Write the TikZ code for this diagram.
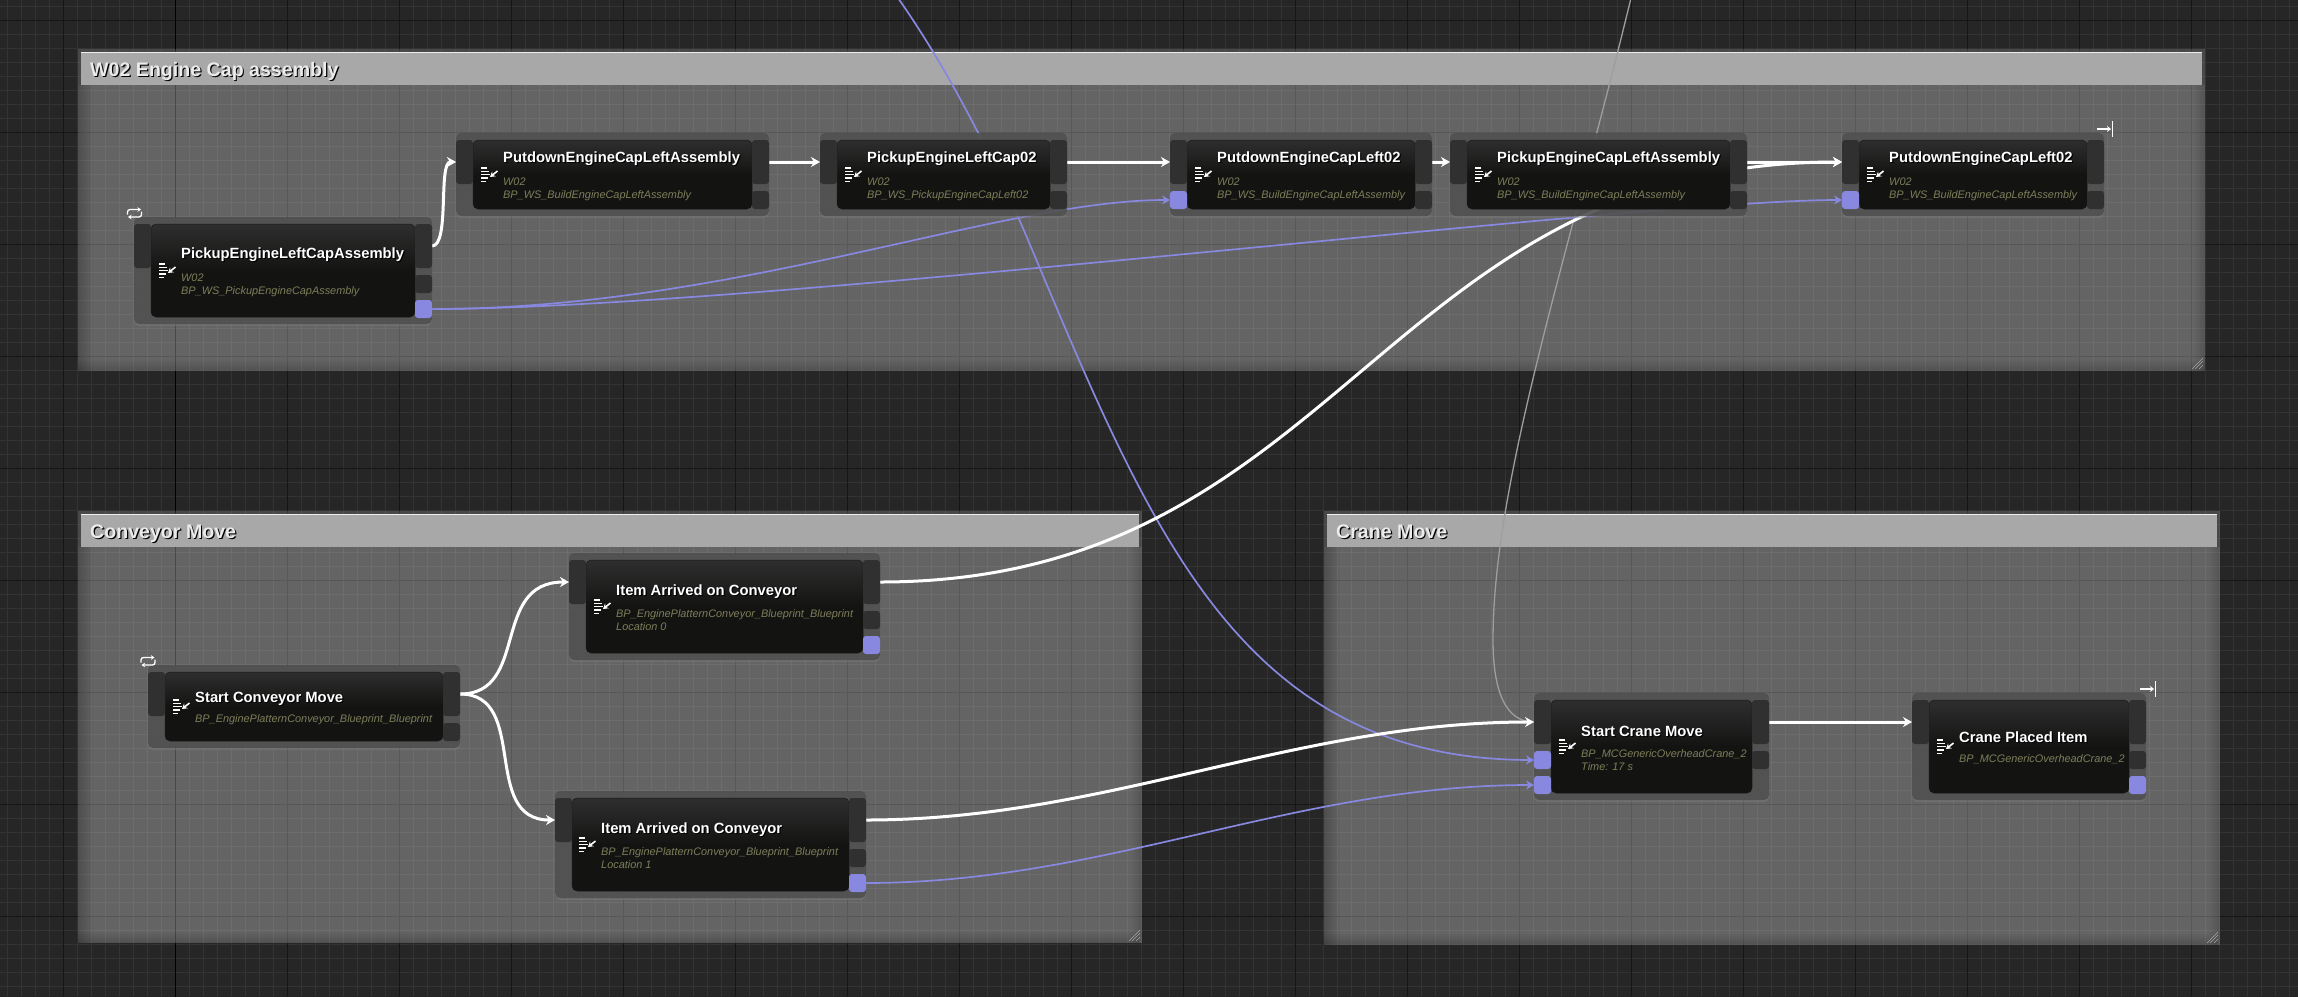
\documentclass[tikz,border=0pt]{standalone}
\usepackage{fontspec}
\setmainfont{Liberation Sans}
\usetikzlibrary{arrows.meta,backgrounds,calc,fadings,shadows}
\definecolor{bggrid}{HTML}{262626}
\definecolor{minorcol}{HTML}{333333}
\definecolor{majorcol}{HTML}{161616}
\definecolor{barcol}{HTML}{A8A8A8}
\definecolor{framecol}{HTML}{4E4E4E}
\definecolor{pincol}{HTML}{303030}
\definecolor{bodytop}{HTML}{2E2E2E}
\definecolor{bodybot}{HTML}{131412}
\definecolor{datacol}{HTML}{8888E0}
\definecolor{subcol}{HTML}{7E7E5A}
\newcommand{\shadowed}[1]{\leavevmode\rlap{\kern1.2pt\raisebox{-1.2pt}{\textcolor{black}{#1}}}#1}
% name, position, width, height, title position, sub position, title, sub
\newcommand{\graphnode}[8]{
	\node[frame, minimum width=#3, minimum height=#4] (#1) at #2 {};
	\node[body, minimum width=#3-34, minimum height=#4-14] (#1-body) at (#1) {};
	\node[pinbox, minimum height=44, anchor=north west] (#1-in) at ([yshift=-7pt]#1.north west) {};
	\node[pinbox, minimum height=44, anchor=north east] (#1-out) at ([yshift=-7pt]#1.north east) {};
	\node[pinbox, minimum height=18, anchor=north east] (#1-aux) at ([yshift=-58pt]#1.north east) {};
	\node[titletext] (#1-title) at #5 {\shadowed{#7}};
	\node[subtext] (#1-sub) at #6 {#8};
	\pic at ([xshift=-14pt]#1-title.west |- #1.center) {listicon};
}
% name, left, top, right, bottom, title
\newcommand{\commentbox}[6]{
	\fill[white, fill opacity=.286] (#2,#3+36) rectangle (#4,#5);
	\fill[white, fill opacity=.16] (#2,#3) rectangle (#4,#3+36);
	\fill[black, fill opacity=.22, path fading=east] (#2,#3+36) rectangle (#2+16,#5);
	\fill[black, fill opacity=.16, path fading=west] (#4-12,#3+36) rectangle (#4,#5);
	\fill[black, fill opacity=.2, path fading=north] (#2,#5-12) rectangle (#4,#5);
	\fill[barcol] (#2+3,#3+3) rectangle (#4-3,#3+36);
	\draw[white!80!barcol] (#2+3,#3+3.5) -- (#4-3,#3+3.5);
	\foreach \d in {4,8,11}{
		\draw[white!75!black, line width=.4pt] (#4-2-\d,#5-2) -- (#4-2,#5-2-\d);
	}
	\node[commenttext] (#1-title) at (#2+12,#3+22) {\shadowed{#6}};
}
\begin{document}
\begin{tikzpicture}[x=1pt, y=-1pt,
	frame/.style={rectangle, anchor=north west, rounded corners=5pt, fill=framecol, fill opacity=.85, inner sep=0pt, outer sep=0pt,
		drop shadow={shadow xshift=0pt, shadow yshift=-2pt, opacity=.4}},
	body/.style={rectangle, rounded corners=5pt, top color=bodytop, bottom color=bodybot, middle color=bodybot, draw=black!90, line width=.5pt, inner sep=0pt, outer sep=0pt},
	pinbox/.style={rectangle, rounded corners=3pt, fill=pincol, minimum width=17, inner sep=0pt, outer sep=0pt},
	datapin/.style={pinbox, fill=datacol, minimum height=18},
	titletext/.style={anchor=west, inner sep=0pt, yshift=-1pt, text=white, text height=11pt, text depth=3pt, font=\fontsize{14.8}{15}\selectfont\bfseries},
	subtext/.style={anchor=north west, inner sep=0pt, yshift=-2.5pt, align=left, text=subcol, font=\fontsize{10.9}{13}\selectfont\itshape},
	commenttext/.style={anchor=west, inner sep=0pt, text=white!92!black, text height=14pt, text depth=4pt, font=\fontsize{19.6}{20}\selectfont\bfseries},
	exec wire/.style={white, line width=3pt, -{Stealth[length=9pt,width=10pt]}},
	data wire/.style={datacol, line width=1.7pt, -{Stealth[length=8pt,width=9pt]}},
	thin wire/.style={white!62!black, line width=1.3pt},
	listicon/.pic={
		\foreach \i/\l in {0/6,1/8,2/9,3/7,4/5}{
			\draw[white, line width=1.3pt] (-8,-6.5+3.3*\i) -- (-8+\l,-6.5+3.3*\i);
		}
		\draw[white, line width=1.6pt, -{Stealth[length=5pt,width=6pt]}] (8.5,-3.5) -- (1,2.5);
	},
	loopicon/.pic={
		\draw[white, line width=1.3pt, rounded corners=2.5pt, -{Stealth[length=3.5pt,width=4.5pt]}] (-7,1.5) -- (-7,-3.5) -- (6.5,-3.5);
		\draw[white, line width=1.3pt, rounded corners=2.5pt, -{Stealth[length=3.5pt,width=4.5pt]}] (7,-1.5) -- (7,4) -- (-6.5,4);
	},
	endicon/.pic={
		\draw[white, line width=1.5pt, -{Stealth[length=4pt,width=6pt]}] (-8,0) -- (6,0);
		\draw[white, line width=1pt] (7,-8) -- (7,8);
	}]
	\useasboundingbox (0,0) rectangle (2298,997);
	\begin{scope}[on background layer]
		\fill[bggrid] (0,0) rectangle (2298,997);
		\foreach \x in {7.5,21.5,...,2298}{
			\draw[minorcol, line width=1pt] (\x,0) -- (\x,997);
		}
		\foreach \y in {6.5,20.5,...,997}{
			\draw[minorcol, line width=1pt] (0,\y) -- (2298,\y);
		}
		\foreach \x in {63.5,175.5,...,2298}{
			\draw[majorcol, line width=1pt] (\x,0) -- (\x,997);
		}
		\foreach \y in {20.5,132.5,...,997}{
			\draw[majorcol, line width=1pt] (0,\y) -- (2298,\y);
		}
		\draw[black, line width=1pt] (175.5,0) -- (175.5,997);
		\commentbox{engine}{78}{49}{2205}{371}{W02 Engine Cap assembly}
		\commentbox{conveyor}{78}{511}{1142}{943}{Conveyor Move}
		\commentbox{crane}{1324}{511}{2220}{945}{Crane Move}
	\end{scope}

	\graphnode{pickupasm}{(134,217)}{298}{107}{(181,253)}{(181,271)}{PickupEngineLeftCapAssembly}{W02\\BP\_WS\_PickupEngineCapAssembly}
	\graphnode{putdownasm}{(456,133)}{313}{83}{(503,157)}{(503,175)}{PutdownEngineCapLeftAssembly}{W02\\BP\_WS\_BuildEngineCapLeftAssembly}
	\graphnode{pickupcap}{(820,133)}{247}{83}{(867,157)}{(867,175)}{PickupEngineLeftCap02}{W02\\BP\_WS\_PickupEngineCapLeft02}
	\graphnode{putdowncap}{(1170,133)}{262}{83}{(1217,157)}{(1217,175)}{PutdownEngineCapLeft02}{W02\\BP\_WS\_BuildEngineCapLeftAssembly}
	\graphnode{pickuplast}{(1450,133)}{297}{83}{(1497,157)}{(1497,175)}{PickupEngineCapLeftAssembly}{W02\\BP\_WS\_BuildEngineCapLeftAssembly}
	\graphnode{putdownlast}{(1842,133)}{262}{83}{(1889,157)}{(1889,175)}{PutdownEngineCapLeft02}{W02\\BP\_WS\_BuildEngineCapLeftAssembly}
	\graphnode{startconv}{(148,665)}{312}{83}{(195,697)}{(195,712)}{Start Conveyor Move}{BP\_EnginePlatternConveyor\_Blueprint\_Blueprint}
	\graphnode{itemzero}{(569,553)}{311}{107}{(616,590)}{(616,607)}{Item Arrived on Conveyor}{BP\_EnginePlatternConveyor\_Blueprint\_Blueprint\\Location 0}
	\graphnode{itemone}{(555,791)}{311}{107}{(601,828)}{(601,845)}{Item Arrived on Conveyor}{BP\_EnginePlatternConveyor\_Blueprint\_Blueprint\\Location 1}
	\graphnode{startcrane}{(1534,693)}{235}{107}{(1581,731)}{(1581,747)}{Start Crane Move}{BP\_MCGenericOverheadCrane\_2\\Time: 17 s}
	\graphnode{placed}{(1912,693)}{234}{107}{(1959,737)}{(1959,752)}{Crane Placed Item}{BP\_MCGenericOverheadCrane\_2}

	\node[datapin, anchor=north east] (pickupasm-data) at ([yshift=-83pt]pickupasm.north east) {};
	\node[datapin, anchor=north west] (putdowncap-data) at ([yshift=-58pt]putdowncap.north west) {};
	\node[datapin, anchor=north west] (putdownlast-data) at ([yshift=-58pt]putdownlast.north west) {};
	\node[datapin, anchor=north east] (itemzero-data) at ([yshift=-83pt]itemzero.north east) {};
	\node[datapin, anchor=north east] (itemone-data) at ([yshift=-83pt]itemone.north east) {};
	\node[datapin, anchor=north west] (startcrane-one) at ([yshift=-58pt]startcrane.north west) {};
	\node[datapin, anchor=north west] (startcrane-two) at ([yshift=-83pt]startcrane.north west) {};
	\node[datapin, anchor=north east] (placed-data) at ([yshift=-83pt]placed.north east) {};

	\pic at (134.5,213) {loopicon};
	\pic at (148,661) {loopicon};
	\pic at (2105,129) {endicon};
	\pic at (2148,689) {endicon};

	\coordinate (bluetop) at (898,-2);
	\coordinate (bluemid) at (1028,240);
	\coordinate (graytop) at (1631,-2);
	\coordinate (graymid) at (1493,640);

	\begin{scope}[on background layer]
		\draw[thin wire] (graytop) .. controls (1570,250) and (1493,480) .. (graymid) .. controls (1493,690) and (1505,722) .. (startcrane-in.west);
		\draw[data wire] (bluetop) .. controls (945,65) and (990,150) .. (bluemid) .. controls (1150,530) and (1240,759) .. (startcrane-one.west);
		\draw[data wire] (pickupasm-data.east) .. controls +(300,0) and +(-170,0) .. (putdowncap-data.west);
		\draw[data wire] (pickupasm-data.east) .. controls +(320,0) and +(-202,0) .. (putdownlast-data.west);
		\draw[data wire] (itemone-data.east) .. controls +(240,0) and +(-240,0) .. (startcrane-two.west);
		\draw[exec wire] (pickupasm-out.east) .. controls +(18,0) and +(-18,0) .. (putdownasm-in.west);
		\draw[exec wire] (putdownasm-out.east) -- (pickupcap-in.west);
		\draw[exec wire] (pickupcap-out.east) -- (putdowncap-in.west);
		\draw[exec wire] (putdowncap-out.east) -- (pickuplast-in.west);
		\draw[exec wire] (pickuplast-out.east) -- (putdownlast-in.west);
		\draw[exec wire] (startconv-out.east) .. controls +(70,0) and +(-79,0) .. (itemzero-in.west);
		\draw[exec wire] (startconv-out.east) .. controls +(70,0) and +(-75,0) .. (itemone-in.west);
		\draw[exec wire] (itemzero-out.east) .. controls +(460,0) and +(-460,0) .. (putdownlast-in.west);
		\draw[exec wire] (itemone-out.east) .. controls +(240,0) and +(-240,0) .. (startcrane-in.west);
		\draw[exec wire] (startcrane-out.east) -- (placed-in.west);
	\end{scope}
\end{tikzpicture}
\end{document}
